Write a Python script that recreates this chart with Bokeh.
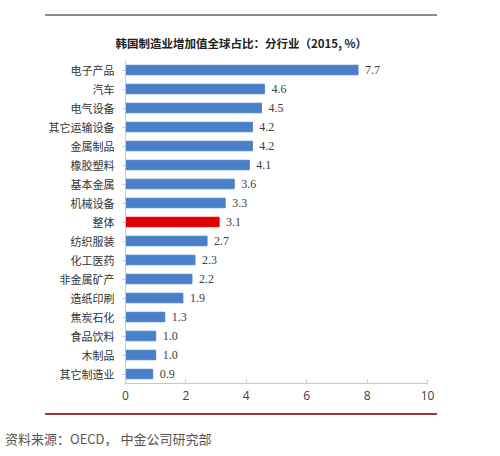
from bokeh.plotting import figure
from bokeh.models import ColumnDataSource, LabelSet, Div
from bokeh.layouts import column
from bokeh.embed import file_html
from bokeh.resources import INLINE

categories = ["电子产品", "汽车", "电气设备", "其它运输设备", "金属制品", "橡胶塑料",
              "基本金属", "机械设备", "整体", "纺织服装", "化工医药", "非金属矿产",
              "造纸印刷", "焦炭石化", "食品饮料", "木制品", "其它制造业"]
values = [7.7, 4.6, 4.5, 4.2, 4.2, 4.1, 3.6, 3.3, 3.1, 2.7, 2.3, 2.2, 1.9, 1.3, 1.0, 1.0, 0.9]
highlight = "整体"
x_ticks = [0, 2, 4, 6, 8, 10]
title_text = "韩国制造业增加值全球占比：分行业（2015, %）"
source_text = "资料来源：OECD， 中金公司研究部"

colors = ["#e00000" if c == highlight else "#4a7fc9" for c in categories]
src = ColumnDataSource(dict(cat=categories, val=values, col=colors,
                            txt=[f"{v:.1f}" for v in values]))

W = 492
top_div = Div(width=W, height=24, margin=0,
              text='<div style="margin-left:45px;margin-top:14px;width:392px;'
                   'height:2px;background:#8c8c8c"></div>')

p = figure(width=W, height=386, y_range=list(reversed(categories)), x_range=(0, 10),
           output_backend="svg", toolbar_location=None, margin=0,
           title=title_text,
           min_border_left=125, min_border_right=65, min_border_top=36, min_border_bottom=27)
p.outline_line_color = None
p.grid.grid_line_color = None

p.title.align = "left"
p.title.vertical_align = "top"
p.title.offset = -10
p.title.standoff = 15
p.title.text_font = "Noto Sans CJK SC"
p.title.text_font_size = "11.5px"
p.title.text_font_style = "bold"
p.title.text_color = "#222222"

p.hbar(y="cat", right="val", left=0, height=0.5, color="col", source=src)
p.add_layout(LabelSet(x="val", y="cat", text="txt", source=src, x_offset=7,
                      text_baseline="middle", text_font_size="12px",
                      text_color="#404040", text_font="Open Sans"))

p.xaxis.ticker = x_ticks
p.xaxis.axis_line_color = "#c8c8c8"
p.xaxis.major_tick_line_color = "#c8c8c8"
p.xaxis.major_tick_in = 4
p.xaxis.major_tick_out = 0
p.xaxis.minor_tick_line_color = None
p.xaxis.major_label_text_font_size = "12px"
p.xaxis.major_label_text_color = "#404040"
p.xaxis.major_label_text_font = "Open Sans"
p.xaxis.major_label_standoff = 7

p.yaxis.axis_line_color = "#c8c8c8"
p.yaxis.major_tick_line_color = "#c8c8c8"
p.yaxis.major_tick_in = 0
p.yaxis.major_tick_out = 3
p.yaxis.major_label_text_font_size = "11px"
p.yaxis.major_label_text_color = "#333333"
p.yaxis.major_label_text_font = "Noto Sans CJK SC"
p.yaxis.major_label_standoff = 8

bottom_div = Div(width=W, height=46, margin=0,
                 text='<div style="margin-left:45px;margin-top:3px;width:392px;'
                      'height:2px;background:#a3353a"></div>'
                      '<div style="margin-left:5px;margin-top:16px;font-family:\'Noto Sans CJK SC\';'
                      'font-size:13px;color:#555555;line-height:16px">' + source_text + '</div>')

layout = column(top_div, p, bottom_div, spacing=0)
open("out.html", "w").write(file_html(layout, INLINE))
